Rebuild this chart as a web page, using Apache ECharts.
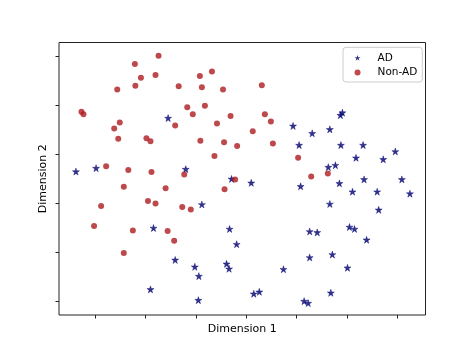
<!DOCTYPE html>
<html>
<head>
<meta charset="utf-8">
<script src="https://cdn.jsdelivr.net/npm/echarts@6/dist/echarts.min.js"></script>
<style>html,body{margin:0;padding:0;background:#fff;}#c{width:474px;height:355px;}</style>
</head>
<body>
<div id="c"></div>
<script>
// Tick positions (labels hidden in the original)
const xTicks = [-30, -20, -10, 0, 10, 20, 30];
const yTicks = [-20, -10, 0, 10, 20, 30];

// AD (stars)
const adPoints = [
  [-15.5, 17.4], [-33.8, 6.5], [-29.8, 7.2], [-12.0, 7.0], [9.3, 15.8], [10.5, 11.9],
  [-2.9, 5.0], [1.0, 4.2], [19.1, 18.5], [18.7, 18.0], [13.1, 14.3], [16.6, 15.1],
  [18.8, 11.9], [23.2, 11.9], [29.6, 10.6], [21.8, 9.3], [27.2, 9.0], [16.3, 7.4],
  [17.7, 7.8], [23.4, 4.9], [30.9, 4.9], [18.5, 4.1], [10.8, 3.5], [21.1, 2.4],
  [26.0, 2.4], [32.5, 2.0], [16.6, -0.1], [26.3, -1.3], [12.6, -5.7], [14.1, -5.9],
  [20.5, -4.8], [21.5, -5.2], [23.9, -7.4], [12.6, -11.0], [17.1, -10.4], [20.1, -13.1],
  [16.8, -18.2], [11.5, -19.9], [12.3, -20.3], [-8.8, -0.2], [-3.3, -5.2], [-1.9, -8.3],
  [-10.2, -12.9], [-3.9, -12.3], [-3.4, -13.3], [-9.4, -14.8], [7.4, -13.4], [1.5, -18.4],
  [2.6, -18.0], [-9.5, -19.7], [-18.4, -5.0], [-14.1, -11.5], [-19.0, -17.5]
];

// Non-AD (circles)
const nonAdPoints = [
  [-17.4, 30.1], [-22.1, 28.4], [-18.0, 26.2], [-20.9, 25.6], [-22.0, 24.0], [-13.4, 23.9],
  [-25.6, 23.2], [-32.7, 18.7], [-32.3, 18.2], [-25.1, 16.5], [-14.1, 15.9], [-26.2, 15.3],
  [-25.4, 13.2], [-19.8, 13.3], [-19.0, 12.7], [-27.8, 7.6], [-23.4, 6.8], [-18.8, 6.4],
  [-12.3, 5.9], [-6.8, 26.9], [-9.2, 26.0], [-8.8, 23.7], [-4.6, 23.2], [3.1, 24.1],
  [-11.7, 19.6], [-8.2, 19.9], [-10.6, 18.2], [-3.1, 17.8], [3.7, 18.2], [4.9, 16.7],
  [-5.8, 16.3], [1.3, 14.7], [-9.1, 12.8], [-4.4, 12.5], [-1.8, 11.7], [5.3, 12.2],
  [-6.3, 9.7], [10.3, 9.3], [-2.2, 4.9], [12.9, 5.5], [16.2, 6.1], [-24.3, 3.4],
  [-16.0, 3.1], [-28.8, -0.5], [-19.5, 0.5], [-18.0, 0.0], [-12.7, -0.7], [-30.2, -4.6],
  [-22.5, -5.5], [-15.6, -5.6], [-14.3, -7.6], [-24.3, -10.1], [-4.3, 2.9], [-11.0, -1.2]
];

const seriesNames = ['AD', 'Non-AD'];
const xLabel = 'Dimension 1';
const yLabel = 'Dimension 2';

const STAR = 'path://M0,-1 L0.2245,-0.309 L0.951,-0.309 L0.363,0.118 L0.588,0.809 L0,0.382 L-0.588,0.809 L-0.363,0.118 L-0.951,-0.309 L-0.2245,-0.309 Z';
const FONT = 'DejaVu Sans';

const chart = echarts.init(document.getElementById('c'), null, {renderer: 'canvas'});
chart.setOption({
  animation: false,
  backgroundColor: '#ffffff',
  grid: {
    left: 59, right: 48.5, top: 42.5, bottom: 40,
    show: true, borderColor: '#222', borderWidth: 1, backgroundColor: 'transparent'
  },
  xAxis: {
    type: 'value', min: -37.16, max: 35.59,
    name: xLabel, nameLocation: 'middle', nameGap: 9,
    nameTextStyle: {fontFamily: FONT, fontSize: 11, color: '#000', verticalAlign: 'top'},
    axisLine: {show: false, onZero: false},
    axisTick: {show: true, length: 3.5, lineStyle: {color: '#222', width: 1}, customValues: xTicks},
    axisLabel: {show: false},
    splitLine: {show: false}
  },
  yAxis: {
    type: 'value', min: -22.72, max: 32.8,
    name: yLabel, nameLocation: 'middle', nameGap: 10,
    nameTextStyle: {fontFamily: FONT, fontSize: 11, color: '#000', verticalAlign: 'bottom'},
    axisLine: {show: false, onZero: false},
    axisTick: {show: true, length: 3.5, lineStyle: {color: '#222', width: 1}, customValues: yTicks},
    axisLabel: {show: false},
    splitLine: {show: false}
  },
  legend: {
    orient: 'vertical',
    right: 51.7, top: 47.3,
    padding: [4, 5, 3, 11.5],
    itemWidth: 6, itemHeight: 6, itemGap: 1.7,
    borderColor: '#cccccc', borderWidth: 1, borderRadius: 3,
    backgroundColor: '#ffffff',
    textStyle: {fontFamily: FONT, fontSize: 10.5, color: '#000', lineHeight: 13, padding: [0, 0, 0, 12]},
    data: [
      {name: seriesNames[0], icon: STAR, itemStyle: {borderWidth: 0}},
      {name: seriesNames[1], icon: 'circle', itemStyle: {borderWidth: 0}}
    ]
  },
  series: [
    {
      name: seriesNames[0], type: 'scatter', data: adPoints,
      symbol: STAR, symbolSize: 7,
      itemStyle: {color: '#000070', borderColor: '#000070', borderWidth: 0.5}
    },
    {
      name: seriesNames[1], type: 'scatter', data: nonAdPoints,
      symbol: 'circle', symbolSize: 6,
      itemStyle: {color: '#ae1c20'}
    }
  ]
});
</script>
</body>
</html>
